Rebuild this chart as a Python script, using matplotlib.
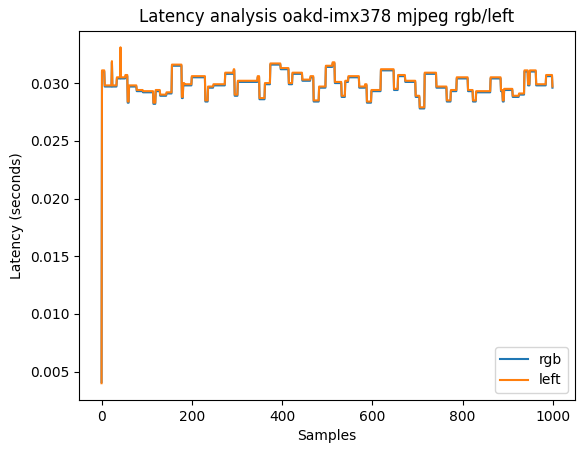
"""Latency analysis plot for oakd-imx378 mjpeg, rgb vs left stream."""
import numpy as np
import matplotlib
matplotlib.use("Agg")
import matplotlib.pyplot as plt

# piecewise levels (segment start samples, last edge = 1000)
edges = [0, 1, 7, 23, 24, 34, 42, 43, 53, 58, 61, 78, 92, 115, 120, 130, 144, 156,
         178, 181, 184, 200, 230, 236, 248, 274, 293, 295, 302, 346, 350, 362, 374,
         397, 415, 423, 445, 463, 470, 482, 497, 512, 517, 532, 540, 547, 571, 584,
         588, 598, 619, 648, 657, 673, 696, 705, 716, 742, 765, 774, 787, 812, 823,
         830, 862, 885, 889, 892, 911, 925, 937, 945, 949, 963, 985, 999, 1000]

left_levels = [0.0040, 0.0311, 0.0298, 0.0319, 0.0298, 0.0305, 0.0331, 0.0305, 0.0307,
               0.0284, 0.0298, 0.0294, 0.0293, 0.0283, 0.0294, 0.0290, 0.0292, 0.0316,
               0.0288, 0.0300, 0.0299, 0.0306, 0.0285, 0.0297, 0.0299, 0.0309, 0.0312,
               0.0290, 0.0302, 0.0306, 0.0287, 0.0300, 0.0317, 0.0313, 0.0300, 0.0309,
               0.0303, 0.0306, 0.0285, 0.0297, 0.0315, 0.0318, 0.0301, 0.0289, 0.0302,
               0.0306, 0.0297, 0.0299, 0.0284, 0.0294, 0.0312, 0.0295, 0.0307, 0.0302,
               0.0289, 0.0279, 0.0309, 0.0297, 0.0285, 0.0294, 0.0305, 0.0294, 0.0285,
               0.0293, 0.0305, 0.0294, 0.0285, 0.0295, 0.0289, 0.0291, 0.0311, 0.0299,
               0.0311, 0.0299, 0.0307, 0.0297]

rgb_levels = [0.0041, 0.0310, 0.0297, 0.0318, 0.0297, 0.0304, 0.0330, 0.0304, 0.0306,
              0.0283, 0.0297, 0.0293, 0.0292, 0.0282, 0.0293, 0.0289, 0.0291, 0.0315,
              0.0287, 0.0299, 0.0298, 0.0305, 0.0284, 0.0296, 0.0298, 0.0308, 0.0311,
              0.0289, 0.0301, 0.0305, 0.0286, 0.0299, 0.0316, 0.0312, 0.0299, 0.0308,
              0.0302, 0.0305, 0.0284, 0.0296, 0.0314, 0.0317, 0.0300, 0.0288, 0.0301,
              0.0305, 0.0296, 0.0298, 0.0283, 0.0293, 0.0311, 0.0294, 0.0306, 0.0301,
              0.0288, 0.0278, 0.0308, 0.0296, 0.0284, 0.0293, 0.0304, 0.0293, 0.0284,
              0.0292, 0.0304, 0.0293, 0.0284, 0.0294, 0.0288, 0.0290, 0.0310, 0.0298,
              0.0310, 0.0298, 0.0306, 0.0296]

lengths = np.diff(edges)
samples = np.arange(edges[-1])
left = np.repeat(left_levels, lengths)
rgb = np.repeat(rgb_levels, lengths)

fig = plt.figure(figsize=(5.85, 4.53), dpi=100)
ax = fig.add_axes([79 / 585, 53 / 453, 496 / 585, 369.5 / 453])
ax.plot(samples, rgb, label="rgb")
ax.plot(samples, left, label="left")
ax.set_title("Latency analysis oakd-imx378 mjpeg rgb/left")
ax.set_xlabel("Samples")
ax.set_ylabel("Latency (seconds)")
ax.legend(loc="lower right")
fig.savefig("out.png", dpi=100)
